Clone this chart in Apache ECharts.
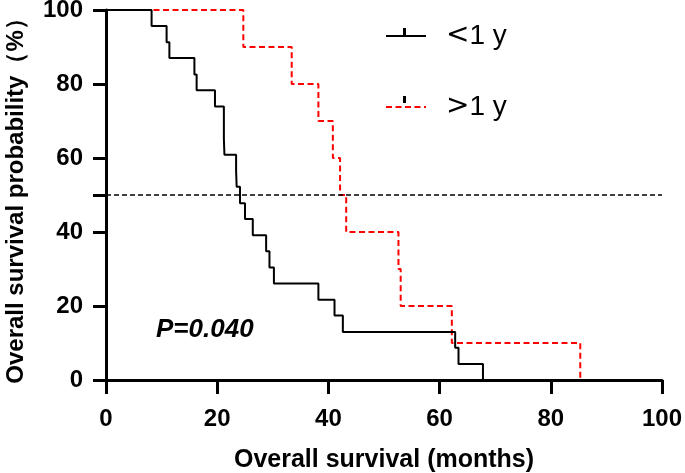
<!DOCTYPE html>
<html>
<head>
<meta charset="utf-8">
<script src="https://cdn.jsdelivr.net/npm/echarts@6/dist/echarts.min.js"></script>
<style>
html,body{margin:0;padding:0;background:#fff;}
#chart{width:685px;height:473px;}
</style>
</head>
<body>
<div id="chart"></div>
<script>
// Group < 1 year (black, solid)
const lessTimes = [0, 8.2, 10.9, 11.4, 15.9, 16.3, 19.6, 21.2, 21.3, 23.4, 23.5, 24.1, 25.0, 26.4, 28.8, 29.4, 30.2, 38.2, 41.1, 42.6, 62.8, 63.4, 67.8];
const lessSurv  = [100, 95.7, 91.3, 87.0, 82.6, 78.3, 73.9, 65.2, 60.9, 56.5, 52.2, 47.8, 43.5, 39.1, 34.8, 30.4, 26.1, 21.7, 17.4, 13.0, 8.7, 4.3, 0];
// Group > 1 year (red, dashed)
const moreTimes = [0, 24.7, 33.4, 38.2, 40.8, 42.1, 43.2, 52.6, 53.0, 62.2, 85.3];
const moreSurv  = [100, 90, 80, 70, 60, 50, 40, 30, 20, 10, 0];
const seriesNames = ['<1 y', '>1 y'];
const xTicks = [0, 20, 40, 60, 80, 100];
const yTicks = [0, 20, 40, 60, 80, 100];
const yTickMarks = [0, 20, 40, 50, 60, 80, 100];
const medianLine = 50;
const pText = 'P=0.040';

const FONT = '"Liberation Sans", Arial, sans-serif';
const chart = echarts.init(document.getElementById('chart'), null, {renderer: 'canvas'});

function zip(a, b) { return a.map((v, i) => [v, b[i]]); }

const option = {
  backgroundColor: '#fff',
  animation: false,
  grid: {left: 106, right: 23, top: 10, bottom: 93, outerBoundsMode: 'none'},
  legend: {
    orient: 'vertical',
    left: 385,
    top: 22,
    padding: 0,
    itemWidth: 40,
    itemHeight: 14,
    itemGap: 43,
    itemStyle: {color: 'rgba(0,0,0,0)', borderColor: 'rgba(0,0,0,0)', borderWidth: 0},
    formatter: function (n) { return '{s|' + n.charAt(0) + '}{t|' + n.slice(1) + '}'; },
    textStyle: {
      fontSize: 28, fontFamily: FONT, color: '#000', padding: [0, 0, 0, 15],
      rich: {
        s: {fontSize: 28, fontFamily: '"DejaVu Sans", sans-serif', color: '#000'},
        t: {fontSize: 28, fontFamily: FONT, color: '#000'}
      }
    },
    data: seriesNames
  },
  xAxis: {
    type: 'value',
    min: 0, max: 100, interval: 20,
    name: 'Overall survival (months)',
    nameLocation: 'middle',
    nameGap: 68,
    nameTextStyle: {fontSize: 25, fontWeight: 'bold', fontFamily: FONT, color: '#000'},
    axisLine: {show: true, lineStyle: {color: '#000', width: 3}},
    axisTick: {show: true, length: 14, lineStyle: {color: '#000', width: 3}, customValues: xTicks},
    axisLabel: {fontSize: 24, fontWeight: 'bold', fontFamily: FONT, color: '#000', margin: 27, customValues: xTicks},
    splitLine: {show: false}
  },
  yAxis: {
    type: 'value',
    min: 0, max: 100, interval: 20,
    name: 'Overall survival probability（%）',
    nameLocation: 'middle',
    nameGap: 78,
    nameTextStyle: {fontSize: 24, fontWeight: 'bold', fontFamily: FONT, color: '#000'},
    axisLine: {show: true, lineStyle: {color: '#000', width: 3}},
    axisTick: {show: true, length: 13, lineStyle: {color: '#000', width: 3}, customValues: yTickMarks},
    axisLabel: {fontSize: 24, fontWeight: 'bold', fontFamily: FONT, color: '#000', margin: 23, customValues: yTicks},
    splitLine: {show: false}
  },
  series: [
    {
      name: seriesNames[0],
      type: 'line',
      step: 'end',
      symbol: 'none',
      data: zip(lessTimes, lessSurv),
      lineStyle: {color: '#000', width: 2},
      itemStyle: {color: '#000'},
      z: 3,
      markLine: {
        silent: true,
        symbol: 'none',
        label: {show: false},
        lineStyle: {color: '#000', width: 1.5, type: [5, 3]},
        data: [{yAxis: medianLine}]
      }
    },
    {
      name: seriesNames[1],
      type: 'line',
      step: 'end',
      symbol: 'none',
      data: zip(moreTimes, moreSurv),
      lineStyle: {color: '#f00', width: 2, type: [6, 3.5]},
      itemStyle: {color: '#f00'},
      z: 2
    }
  ],
  graphic: [
    {type: 'text', left: 156, top: 317,
     style: {text: pText, font: 'italic bold 26px "Liberation Sans", Arial, sans-serif', fill: '#000'}},
    {type: 'rect', left: 403, top: 28, shape: {width: 3, height: 7}, style: {fill: '#000'}},
    {type: 'rect', left: 403, top: 96, shape: {width: 3, height: 7}, style: {fill: '#000'}}
  ]
};
chart.setOption(option);
</script>
</body>
</html>
